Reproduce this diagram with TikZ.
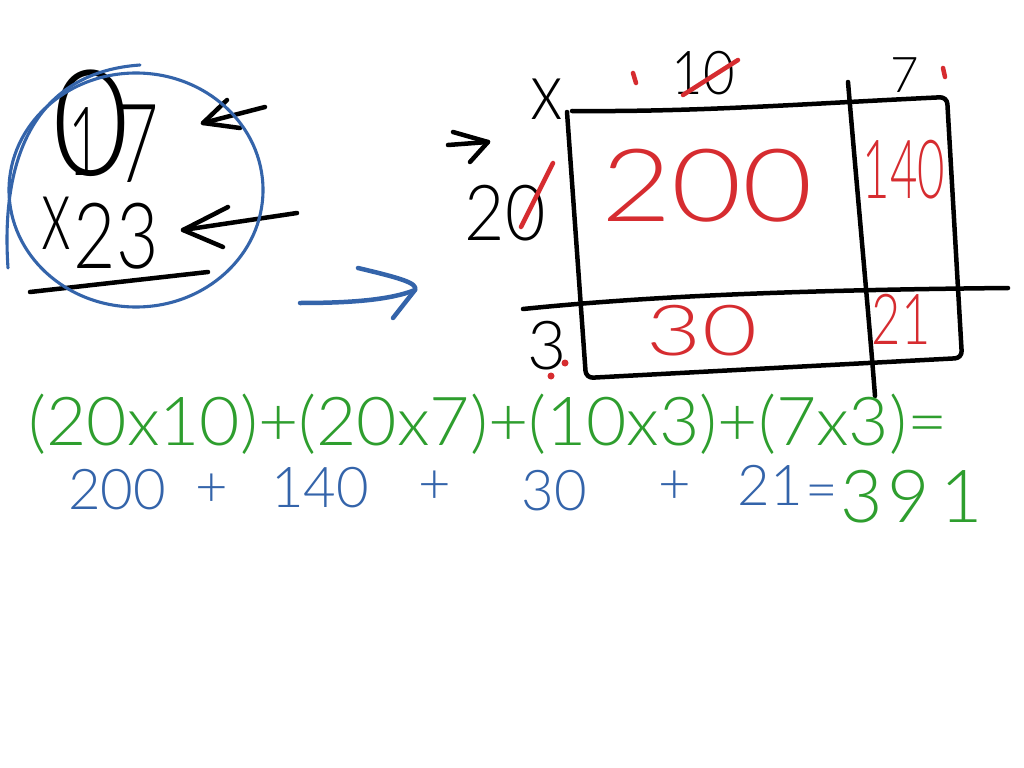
\documentclass[tikz,border=0pt]{standalone}
\usepackage{fontspec}
\setmainfont{Lato}[UprightFont={* Light}]
\definecolor{tintaazul}{RGB}{52,100,170}
\definecolor{tintaroja}{RGB}{214,44,48}
\definecolor{tintaverde}{RGB}{46,158,46}
\newcommand{\tam}[1]{\fontsize{#1}{#1}\selectfont}

\begin{document}
\begin{tikzpicture}[x=0.025cm, y=-0.025cm, line cap=round, line join=round,
  trazo/.style={line width=3.2pt},
  cifra/.style={inner sep=0pt, anchor=center}]
\useasboundingbox[fill=white] (0,0) rectangle (1024,768);

% La cuenta de la izquierda: 07 por 23, con el circulo azul alrededor.
% El 1 va escrito dentro del 0, por eso los dos van en el mismo nodo.
\node[cifra, font=\tam{105}] (cero) at (91,123) {\ooalign{\scalebox{0.9}[1]{0}\cr\hfil\tam{68}\scalebox{0.6}[1]{1}\kern20pt\cr}};
\node[cifra, font=\tam{78}] (siete) at (138,144) {\scalebox{0.65}[1]{7}};
\node[cifra, font=\tam{65}] (veintitres) at (100,233) {\raisebox{14pt}{\tam{75}\scalebox{0.6}[1]{x}}\kern2pt\scalebox{0.8}[1]{23}};
\draw[trazo] (30,292) -- (208,272);

% Flechas negras que senalan cada numero
\coordinate (cola1) at (265,107);
\coordinate (punta1) at (203,123);
\draw[trazo] (cola1) -- (punta1);
\draw[trazo] (227,100) -- (punta1) -- (240,128);
\coordinate (cola2) at (297,213);
\coordinate (punta2) at (183,230);
\draw[trazo] (cola2) -- (punta2);
\draw[trazo] (228,207) -- (punta2) -- (223,247);

% El circulo azul (y el trazo de mas que sale por la izquierda)
\draw[tintaazul, line width=2.2pt] (136,190) ellipse [x radius=127, y radius=117];
\draw[tintaazul, line width=2.2pt] (8,268) .. controls (0,150) and (40,72) .. (140,65);

% Flecha azul hacia la tabla
\coordinate (inicio) at (300,303);
\coordinate (fin) at (415,290);
\draw[tintaazul, trazo] (inicio) .. controls (350,303) and (390,300) .. (fin);
\draw[tintaazul, trazo] (358,268) .. controls (400,278) and (418,283) .. (fin) -- (393,318);

% La tabla: rectangulo con una linea horizontal y otra vertical
\draw[trazo, rounded corners=5pt] (572,111) .. controls (700,112) and (800,104) .. (947,97)
  -- (962,358) -- (586,378) -- (567,112);
\draw[trazo] (523,309) .. controls (650,296) and (800,290) .. (1008,288);
\draw[trazo] (848,82) .. controls (858,200) and (870,330) .. (875,396);

% Numeros de los bordes de la tabla
\node[cifra, font=\tam{58}] (equis) at (547,99) {\scalebox{0.85}[1]{x}};
\node[cifra, font=\tam{43}] (diez) at (703,73) {\scalebox{0.9}[1]{10}};
\node[cifra, font=\tam{35}] (sietearriba) at (905,75) {7};
\node[cifra, font=\tam{55}] (veinte) at (505,213) {\scalebox{0.9}[1]{20}};
\node[cifra, font=\tam{48}] (tres) at (547,346) {3};
\coordinate (colaf) at (448,145);
\coordinate (puntaf) at (488,142);
\draw[trazo] (colaf) -- (puntaf);
\draw[trazo] (453,132) -- (puntaf) -- (470,162);

% Marcas rojas: tachones, comillas y puntos
\draw[tintaroja, trazo] (683,95) -- (738,60);
\draw[tintaroja, trazo] (521,227) -- (553,163);
\draw[tintaroja, trazo] (633,73) -- (636,83);
\draw[tintaroja, trazo] (943,68) -- (945,77);
\fill[tintaroja] (565,363) circle (3.5);
\fill[tintaroja] (551,376) circle (3.5);

% Los productos parciales dentro de cada casilla
\node[cifra, font=\tam{72}, text=tintaroja] (c200) at (707,186) {\scalebox{1.2}[1]{200}};
\node[cifra, font=\tam{58}, text=tintaroja] (c140) at (904,170) {\scalebox{0.58}[1]{140}};
\node[cifra, font=\tam{50}, text=tintaroja] (c30) at (702,331) {\scalebox{1.35}[1]{30}};
\node[cifra, font=\tam{50}, text=tintaroja] (c21) at (901,319) {\scalebox{0.72}[1]{21}};

% La suma final
\node[cifra, font=\tam{48}, text=tintaverde] (ecuacion) at (488,424) {\scalebox{1.03}[1]{(20x10)+(20x7)+(10x3)+(7x3)=}};
\node[cifra, font=\tam{40}, text=tintaazul] (s200) at (117,490) {200};
\node[cifra, font=\tam{40}, text=tintaazul] (mas1) at (212,490) {+};
\node[cifra, font=\tam{40}, text=tintaazul] (s140) at (320,488) {140};
\node[cifra, font=\tam{40}, text=tintaazul] (mas2) at (435,487) {+};
\node[cifra, font=\tam{40}, text=tintaazul] (s30) at (554,491) {30};
\node[cifra, font=\tam{40}, text=tintaazul] (mas3) at (675,487) {+};
\node[cifra, font=\tam{40}, text=tintaazul] (s21) at (770,485) {21};
\node[cifra, font=\tam{40}, text=tintaazul] (igual) at (822,497) {=};
\node[cifra, font=\tam{52}, text=tintaverde] (total) at (912,497) {3\kern3pt9\kern8pt1};
\end{tikzpicture}
\end{document}
